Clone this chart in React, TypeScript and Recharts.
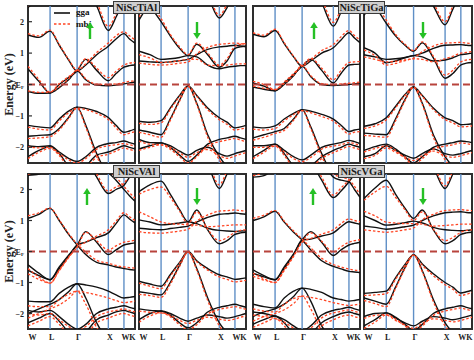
import React from 'react';
import { LineChart, Line, XAxis, YAxis, ReferenceLine, ReferenceArea, Legend } from 'recharts';

// k-path sample positions (W-L-Γ-X-W-K), fcc path lengths
const kPath = [0, 0.35, 0.707, 1.0, 1.3, 1.573, 1.85, 2.2, 2.573, 2.82, 3.073, 3.25, 3.427];
const symPoints = [0, 0.707, 1.573, 2.573, 3.073, 3.427];
const symLabels = ['W', 'L', 'Γ', 'X', 'W', 'K'];
const innerSym = [0.707, 1.573, 2.573, 3.073];
const yTicks = [-2, -1, 0, 1, 2];
const yTickLabels = ['−2', '−1', 'E_F', '1', '2'];
const compounds = ['NiScTiAl', 'NiScTiGa', 'NiScVAl', 'NiScVGa'];
const seriesNames = ['gga', 'mbj'];

// ---------- NiScTiAl spin up ----------
const tiAlUpGga = [
  [2.45, 2.75, 3.0, 3.2, 3.2, 3.2, 3.1, 2.5, 1.72, 2.15, 2.7, 3.0, 3.2],
  [1.58, 1.5, 1.7, 1.25, 0.78, 0.43, 0.62, 0.95, 1.22, 1.45, 1.62, 1.45, 1.32],
  [0.5, 0.1, -0.27, 0.0, 0.22, 0.43, 0.8, 0.45, 0.12, 0.35, 0.55, 0.6, 0.62],
  [-0.22, -0.28, -0.27, -0.1, 0.15, 0.43, 0.15, -0.02, -0.04, -0.02, 0.02, 0.05, 0.08],
  [-1.3, -1.35, -1.38, -1.1, -0.85, -0.72, -0.76, -0.86, -1.05, -1.3, -1.52, -1.48, -1.42],
  [-1.65, -1.62, -1.6, -1.4, -1.05, -0.72, -1.3, -2.2, -2.8, -2.8, -2.8, -2.8, -2.8],
  [-1.95, -1.98, -1.95, -2.15, -2.35, -2.45, -2.3, -2.0, -1.88, -1.85, -1.8, -1.85, -1.9],
  [-2.3, -2.1, -1.98, -2.2, -2.6, -2.8, -2.6, -2.25, -2.15, -2.05, -1.95, -2.0, -2.05],
];
const tiAlUpMbj = [
  [2.5, 2.85, 3.1, 3.3, 3.3, 3.3, 3.2, 2.62, 1.85, 2.25, 2.8, 3.1, 3.3],
  [1.62, 1.55, 1.73, 1.28, 0.8, 0.46, 0.66, 1.02, 1.32, 1.55, 1.68, 1.55, 1.42],
  [0.58, 0.16, -0.24, 0.03, 0.25, 0.46, 0.82, 0.52, 0.22, 0.42, 0.62, 0.68, 0.7],
  [-0.2, -0.25, -0.24, -0.07, 0.18, 0.46, 0.18, 0.01, 0.0, 0.02, 0.06, 0.1, 0.12],
  [-1.36, -1.42, -1.45, -1.16, -0.9, -0.75, -0.8, -0.92, -1.12, -1.38, -1.6, -1.55, -1.5],
  [-1.72, -1.7, -1.66, -1.45, -1.08, -0.75, -1.36, -2.28, -2.9, -2.9, -2.9, -2.9, -2.9],
  [-1.98, -2.02, -2.0, -2.2, -2.4, -2.5, -2.36, -2.06, -1.95, -1.92, -1.88, -1.92, -1.97],
  [-2.36, -2.16, -2.04, -2.26, -2.66, -2.9, -2.68, -2.32, -2.22, -2.12, -2.02, -2.07, -2.12],
];

// ---------- NiScTiAl spin down ----------
const tiAlDnGga = [
  [2.05, 2.6, 3.0, 3.2, 3.2, 3.2, 3.2, 2.8, 2.12, 2.45, 2.9, 3.0, 3.0],
  [2.9, 2.5, 2.0, 1.55, 1.15, 0.92, 1.28, 0.95, 0.55, 0.75, 1.15, 1.2, 1.22],
  [1.06, 0.95, 0.8, 0.82, 0.86, 0.92, 0.88, 0.62, 0.5, 0.55, 0.58, 0.6, 0.6],
  [0.75, 0.72, 0.7, 0.72, 0.76, 0.8, 0.95, 1.12, 1.2, 1.22, 1.25, 1.23, 1.2],
  [-1.17, -1.2, -1.15, -0.75, -0.35, -0.05, -0.35, -0.75, -1.06, -1.2, -1.38, -1.35, -1.3],
  [-1.45, -1.52, -1.6, -1.1, -0.5, -0.05, -0.6, -1.6, -2.3, -2.6, -2.7, -2.7, -2.7],
  [-1.75, -1.85, -1.86, -2.0, -2.25, -2.45, -2.25, -1.9, -1.75, -1.7, -1.65, -1.7, -1.75],
  [-2.05, -1.95, -1.86, -1.95, -2.12, -2.25, -2.1, -2.0, -2.2, -2.28, -2.2, -2.15, -2.1],
];
const tiAlDnMbj = [
  [2.15, 2.7, 3.1, 3.3, 3.3, 3.3, 3.3, 2.9, 2.2, 2.55, 3.0, 3.1, 3.1],
  [3.0, 2.6, 2.1, 1.6, 1.2, 0.95, 1.32, 1.0, 0.62, 0.82, 1.22, 1.28, 1.3],
  [0.95, 0.85, 0.7, 0.72, 0.76, 0.8, 0.8, 0.62, 0.6, 0.62, 0.65, 0.66, 0.66],
  [0.68, 0.64, 0.62, 0.64, 0.68, 0.72, 0.98, 1.18, 1.28, 1.3, 1.32, 1.3, 1.28],
  [-1.24, -1.27, -1.22, -0.8, -0.38, -0.06, -0.38, -0.8, -1.12, -1.27, -1.45, -1.42, -1.38],
  [-1.52, -1.6, -1.68, -1.15, -0.53, -0.06, -0.64, -1.68, -2.4, -2.7, -2.8, -2.8, -2.8],
  [-1.8, -1.9, -1.92, -2.06, -2.3, -2.5, -2.3, -1.96, -1.82, -1.77, -1.72, -1.77, -1.82],
  [-2.1, -2.0, -1.92, -2.0, -2.18, -2.32, -2.17, -2.07, -2.27, -2.35, -2.28, -2.22, -2.17],
];

// ---------- NiScTiGa spin up ----------
const tiGaUpGga = [
  [2.6, 2.9, 3.1, 3.2, 3.2, 3.2, 3.1, 2.6, 1.86, 2.3, 2.8, 3.0, 3.2],
  [1.6, 1.52, 1.72, 1.3, 0.88, 0.58, 0.75, 1.0, 1.17, 1.42, 1.65, 1.48, 1.33],
  [0.05, -0.05, -0.2, 0.05, 0.32, 0.58, 0.8, 0.45, 0.05, 0.35, 0.62, 0.64, 0.65],
  [-0.08, -0.15, -0.2, 0.0, 0.28, 0.58, 0.25, 0.0, -0.03, -0.02, 0.0, 0.02, 0.04],
  [-1.35, -1.38, -1.32, -1.1, -0.92, -0.8, -0.85, -0.95, -1.1, -1.3, -1.5, -1.45, -1.42],
  [-1.7, -1.6, -1.5, -1.4, -1.1, -0.8, -1.35, -2.2, -2.8, -2.8, -2.8, -2.8, -2.8],
  [-1.95, -1.95, -1.9, -2.1, -2.3, -2.4, -2.25, -2.0, -1.9, -1.85, -1.78, -1.82, -1.88],
  [-2.3, -2.1, -1.9, -2.2, -2.6, -2.8, -2.6, -2.3, -2.1, -2.0, -1.9, -1.95, -2.0],
];
const tiGaUpMbj = [
  [2.7, 3.0, 3.2, 3.3, 3.3, 3.3, 3.2, 2.72, 1.98, 2.4, 2.9, 3.1, 3.3],
  [1.65, 1.57, 1.76, 1.33, 0.9, 0.6, 0.8, 1.08, 1.27, 1.52, 1.72, 1.56, 1.42],
  [0.1, 0.0, -0.16, 0.08, 0.35, 0.6, 0.83, 0.52, 0.15, 0.45, 0.7, 0.72, 0.73],
  [-0.05, -0.12, -0.16, 0.03, 0.3, 0.6, 0.28, 0.03, 0.0, 0.02, 0.04, 0.06, 0.08],
  [-1.42, -1.45, -1.4, -1.16, -0.96, -0.83, -0.9, -1.02, -1.17, -1.38, -1.58, -1.52, -1.5],
  [-1.77, -1.68, -1.56, -1.46, -1.14, -0.83, -1.4, -2.28, -2.9, -2.9, -2.9, -2.9, -2.9],
  [-2.0, -2.0, -1.95, -2.15, -2.36, -2.46, -2.32, -2.06, -1.96, -1.92, -1.85, -1.88, -1.95],
  [-2.36, -2.16, -1.96, -2.26, -2.66, -2.9, -2.66, -2.36, -2.17, -2.07, -1.97, -2.02, -2.07],
];

// ---------- NiScTiGa spin down ----------
const tiGaDnGga = [
  [2.2, 2.7, 3.1, 3.2, 3.2, 3.2, 3.0, 2.5, 1.9, 2.4, 2.9, 3.0, 3.0],
  [2.9, 2.5, 1.95, 1.55, 1.25, 1.06, 1.33, 0.85, 0.2, 0.35, 0.62, 0.68, 0.7],
  [1.17, 1.0, 0.69, 0.75, 0.85, 0.92, 0.88, 0.75, 0.78, 0.85, 0.95, 0.97, 1.0],
  [0.95, 0.88, 0.8, 0.82, 0.86, 0.92, 1.0, 1.15, 1.25, 1.26, 1.27, 1.25, 1.24],
  [-1.33, -1.25, -1.06, -0.7, -0.32, -0.08, -0.35, -0.75, -1.06, -1.15, -1.28, -1.27, -1.25],
  [-1.55, -1.58, -1.6, -1.1, -0.48, -0.08, -0.6, -1.6, -2.3, -2.6, -2.7, -2.7, -2.7],
  [-2.1, -1.98, -1.9, -2.05, -2.3, -2.5, -2.3, -2.0, -1.9, -1.85, -1.8, -1.82, -1.85],
  [-2.3, -2.2, -1.95, -2.1, -2.25, -2.35, -2.2, -2.05, -2.2, -2.25, -2.2, -2.15, -2.1],
];
const tiGaDnMbj = [
  [2.3, 2.8, 3.2, 3.3, 3.3, 3.3, 3.1, 2.6, 2.0, 2.5, 3.0, 3.1, 3.1],
  [3.0, 2.6, 2.05, 1.6, 1.28, 1.08, 1.36, 0.9, 0.3, 0.45, 0.72, 0.78, 0.8],
  [1.1, 0.92, 0.62, 0.67, 0.76, 0.82, 0.8, 0.72, 0.82, 0.9, 1.0, 1.02, 1.05],
  [0.88, 0.8, 0.72, 0.74, 0.78, 0.84, 1.05, 1.22, 1.32, 1.33, 1.34, 1.32, 1.3],
  [-1.4, -1.32, -1.12, -0.75, -0.35, -0.09, -0.38, -0.8, -1.12, -1.22, -1.35, -1.34, -1.32],
  [-1.62, -1.65, -1.68, -1.16, -0.52, -0.09, -0.64, -1.68, -2.4, -2.7, -2.8, -2.8, -2.8],
  [-2.15, -2.04, -1.96, -2.1, -2.35, -2.55, -2.36, -2.06, -1.96, -1.92, -1.86, -1.88, -1.92],
  [-2.36, -2.26, -2.02, -2.16, -2.31, -2.42, -2.27, -2.12, -2.27, -2.32, -2.27, -2.22, -2.17],
];

// ---------- NiScVAl spin up ----------
const vAlUpGga = [
  [2.46, 2.5, 2.8, 3.1, 3.2, 3.2, 3.0, 2.4, 1.87, 2.0, 2.14, 2.4, 2.7],
  [3.2, 3.2, 3.2, 3.2, 3.2, 3.2, 3.2, 3.0, 2.55, 2.3, 2.0, 1.8, 1.62],
  [1.07, 1.2, 1.39, 1.0, 0.55, 0.21, -0.1, -0.35, -0.43, -0.5, -0.55, -0.58, -0.6],
  [-0.43, -0.7, -0.91, -0.5, -0.12, 0.21, 0.64, 0.3, -0.1, 0.05, 0.21, 0.25, 0.28],
  [-0.6, -0.78, -0.91, -0.55, -0.15, 0.21, 0.3, 0.45, 0.6, 0.9, 1.18, 1.05, 0.92],
  [-1.6, -1.62, -1.62, -1.35, -1.15, -1.04, -1.08, -1.15, -1.28, -1.4, -1.5, -1.48, -1.45],
  [-2.0, -1.85, -1.7, -1.55, -1.3, -1.04, -1.5, -2.3, -2.8, -2.8, -2.8, -2.8, -2.8],
  [-1.9, -1.95, -1.9, -2.1, -2.35, -2.5, -2.35, -2.0, -1.85, -1.8, -1.75, -1.8, -1.85],
  [-2.3, -2.15, -2.0, -2.25, -2.6, -2.8, -2.6, -2.2, -2.05, -1.95, -1.9, -1.95, -2.0],
];
const vAlUpMbj = [
  [2.5, 2.6, 2.9, 3.2, 3.3, 3.3, 3.1, 2.5, 1.95, 2.08, 2.2, 2.48, 2.8],
  [3.3, 3.3, 3.3, 3.3, 3.3, 3.3, 3.3, 3.1, 2.65, 2.4, 2.1, 1.9, 1.72],
  [1.15, 1.25, 1.4, 1.02, 0.58, 0.24, -0.02, -0.28, -0.38, -0.45, -0.5, -0.52, -0.54],
  [-0.55, -0.82, -1.02, -0.6, -0.18, 0.14, 0.62, 0.35, 0.05, 0.18, 0.3, 0.33, 0.36],
  [-0.72, -0.9, -1.02, -0.62, -0.2, 0.14, 0.3, 0.5, 0.7, 0.98, 1.25, 1.12, 1.0],
  [-1.75, -1.78, -1.78, -1.55, -1.38, -1.28, -1.32, -1.4, -1.5, -1.58, -1.65, -1.63, -1.6],
  [-2.15, -2.0, -1.85, -1.72, -1.52, -1.28, -1.7, -2.45, -2.9, -2.9, -2.9, -2.9, -2.9],
  [-2.0, -2.05, -2.0, -2.2, -2.42, -2.56, -2.42, -2.1, -1.95, -1.9, -1.85, -1.9, -1.95],
  [-2.4, -2.25, -2.1, -2.35, -2.7, -2.9, -2.7, -2.3, -2.15, -2.05, -2.0, -2.05, -2.1],
];

// ---------- NiScVAl spin down ----------
const vAlDnGga = [
  [1.93, 2.15, 2.27, 1.85, 1.35, 0.96, 1.34, 0.7, 0.25, 0.35, 0.55, 0.6, 0.62],
  [3.2, 3.2, 3.2, 3.2, 3.2, 3.2, 3.2, 2.8, 2.03, 2.5, 3.0, 3.2, 3.2],
  [1.02, 0.95, 0.86, 0.88, 0.92, 0.96, 0.9, 0.75, 0.68, 0.66, 0.65, 0.66, 0.67],
  [0.75, 0.72, 0.7, 0.74, 0.78, 0.82, 0.95, 1.1, 1.2, 1.22, 1.24, 1.22, 1.2],
  [-0.96, -1.05, -1.12, -0.75, -0.35, 0.0, -0.3, -0.55, -0.75, -0.82, -0.9, -0.88, -0.85],
  [-1.3, -1.35, -1.4, -1.0, -0.45, 0.0, -0.55, -1.5, -2.3, -2.6, -2.7, -2.7, -2.7],
  [-1.85, -1.9, -1.92, -2.05, -2.3, -2.46, -2.3, -1.95, -1.8, -1.75, -1.7, -1.75, -1.8],
  [-2.2, -2.0, -1.92, -2.0, -2.15, -2.25, -2.15, -2.05, -2.1, -2.15, -2.1, -2.05, -2.0],
];
const vAlDnMbj = [
  [1.85, 2.0, 2.08, 1.75, 1.3, 0.9, 1.28, 0.72, 0.35, 0.45, 0.62, 0.68, 0.7],
  [3.3, 3.3, 3.3, 3.3, 3.3, 3.3, 3.3, 2.9, 2.15, 2.6, 3.1, 3.3, 3.3],
  [1.28, 1.12, 0.95, 0.9, 0.88, 0.86, 0.85, 0.8, 0.82, 0.84, 0.86, 0.86, 0.86],
  [0.64, 0.6, 0.59, 0.62, 0.66, 0.72, 0.98, 1.18, 1.3, 1.32, 1.34, 1.32, 1.3],
  [-1.02, -1.12, -1.2, -0.8, -0.38, -0.02, -0.33, -0.6, -0.82, -0.9, -0.98, -0.96, -0.93],
  [-1.38, -1.42, -1.48, -1.06, -0.48, -0.02, -0.6, -1.58, -2.4, -2.7, -2.8, -2.8, -2.8],
  [-1.92, -1.96, -1.98, -2.1, -2.36, -2.52, -2.36, -2.02, -1.87, -1.82, -1.78, -1.82, -1.87],
  [-2.28, -2.08, -1.98, -2.06, -2.22, -2.32, -2.22, -2.12, -2.18, -2.22, -2.18, -2.12, -2.08],
];

// ---------- NiScVGa spin up ----------
const vGaUpGga = [
  [2.4, 2.45, 2.7, 3.0, 3.2, 3.2, 2.9, 2.3, 1.74, 1.95, 2.25, 2.5, 2.8],
  [3.2, 3.2, 3.2, 3.2, 3.2, 3.2, 3.2, 2.9, 2.4, 2.3, 2.25, 2.0, 1.75],
  [1.0, 1.12, 1.3, 0.95, 0.62, 0.37, 0.05, -0.3, -0.48, -0.56, -0.64, -0.66, -0.68],
  [-0.59, -0.78, -0.91, -0.5, -0.08, 0.37, 0.64, 0.3, -0.13, 0.05, 0.21, 0.26, 0.3],
  [-0.7, -0.82, -0.91, -0.55, -0.1, 0.37, 0.4, 0.5, 0.6, 0.8, 0.96, 0.92, 0.88],
  [-1.7, -1.78, -1.82, -1.5, -1.28, -1.18, -1.22, -1.32, -1.5, -1.55, -1.6, -1.58, -1.55],
  [-2.1, -1.95, -1.85, -1.7, -1.45, -1.18, -1.6, -2.4, -2.8, -2.8, -2.8, -2.8, -2.8],
  [-1.95, -2.0, -2.08, -2.2, -2.4, -2.55, -2.4, -2.05, -1.9, -1.85, -1.8, -1.85, -1.9],
  [-2.35, -2.2, -2.08, -2.3, -2.65, -2.8, -2.65, -2.3, -2.1, -2.0, -1.95, -2.0, -2.05],
];
const vGaUpMbj = [
  [2.45, 2.55, 2.8, 3.1, 3.3, 3.3, 3.0, 2.4, 1.82, 2.05, 2.32, 2.6, 2.9],
  [3.3, 3.3, 3.3, 3.3, 3.3, 3.3, 3.3, 3.0, 2.5, 2.4, 2.32, 2.1, 1.85],
  [1.07, 1.17, 1.32, 0.98, 0.66, 0.4, 0.12, -0.22, -0.42, -0.5, -0.57, -0.6, -0.62],
  [-0.7, -0.88, -1.0, -0.58, -0.14, 0.3, 0.6, 0.33, -0.02, 0.15, 0.3, 0.35, 0.38],
  [-0.8, -0.92, -1.0, -0.62, -0.16, 0.3, 0.42, 0.56, 0.7, 0.9, 1.05, 1.0, 0.96],
  [-1.85, -1.92, -1.95, -1.7, -1.52, -1.44, -1.48, -1.55, -1.65, -1.7, -1.74, -1.72, -1.7],
  [-2.25, -2.1, -2.0, -1.88, -1.68, -1.44, -1.85, -2.55, -2.9, -2.9, -2.9, -2.9, -2.9],
  [-2.05, -2.1, -2.16, -2.28, -2.47, -2.6, -2.47, -2.14, -1.98, -1.93, -1.88, -1.93, -1.98],
  [-2.45, -2.3, -2.16, -2.4, -2.75, -2.9, -2.75, -2.4, -2.2, -2.1, -2.05, -2.1, -2.15],
];

// ---------- NiScVGa spin down ----------
const vGaDnGga = [
  [1.71, 2.05, 2.3, 1.85, 1.4, 1.07, 1.34, 0.7, 0.25, 0.35, 0.55, 0.6, 0.62],
  [3.2, 3.2, 3.2, 3.2, 3.2, 3.2, 3.1, 2.7, 2.03, 2.5, 3.0, 3.2, 3.2],
  [1.15, 1.0, 0.85, 0.88, 0.93, 0.98, 0.92, 0.78, 0.7, 0.68, 0.67, 0.68, 0.7],
  [0.82, 0.78, 0.72, 0.75, 0.8, 0.85, 1.0, 1.15, 1.25, 1.27, 1.28, 1.26, 1.25],
  [-1.35, -1.32, -1.28, -0.85, -0.42, -0.1, -0.4, -0.72, -1.0, -1.15, -1.34, -1.3, -1.25],
  [-1.5, -1.6, -1.7, -1.15, -0.52, -0.1, -0.62, -1.55, -2.3, -2.6, -2.7, -2.7, -2.7],
  [-2.1, -2.0, -1.98, -2.12, -2.35, -2.55, -2.35, -2.0, -1.85, -1.8, -1.75, -1.8, -1.85],
  [-2.4, -2.2, -1.98, -2.15, -2.3, -2.4, -2.25, -2.1, -2.15, -2.2, -2.15, -2.1, -2.05],
];
const vGaDnMbj = [
  [1.65, 1.92, 2.1, 1.75, 1.35, 1.0, 1.28, 0.72, 0.35, 0.45, 0.62, 0.68, 0.7],
  [3.3, 3.3, 3.3, 3.3, 3.3, 3.3, 3.2, 2.8, 2.12, 2.6, 3.1, 3.3, 3.3],
  [1.3, 1.15, 0.95, 0.92, 0.9, 0.9, 0.88, 0.82, 0.84, 0.86, 0.88, 0.88, 0.88],
  [0.7, 0.66, 0.62, 0.65, 0.7, 0.76, 1.02, 1.2, 1.32, 1.34, 1.35, 1.33, 1.32],
  [-1.42, -1.4, -1.36, -0.9, -0.45, -0.12, -0.44, -0.78, -1.07, -1.22, -1.42, -1.38, -1.32],
  [-1.58, -1.68, -1.78, -1.2, -0.55, -0.12, -0.66, -1.62, -2.4, -2.7, -2.8, -2.8, -2.8],
  [-2.16, -2.06, -2.04, -2.18, -2.4, -2.6, -2.4, -2.06, -1.92, -1.87, -1.82, -1.87, -1.92],
  [-2.48, -2.28, -2.05, -2.22, -2.37, -2.48, -2.32, -2.17, -2.22, -2.27, -2.22, -2.17, -2.12],
];

const KMAX = 3.427;
const SERIF = '"Liberation Serif", "DejaVu Serif", serif';
const GGA_COLOR = '#111111';
const MBJ_COLOR = '#ff4422';
const SYM_COLOR = '#5f8fc6';
const EF_COLOR = '#b8433c';
const FRAME = '#2e2e2e';
const GREEN = '#25c025';

type Rows = Record<string, number>[];

function buildRows(gga: number[][], mbj: number[][]): Rows {
  return kPath.map((k, i) => {
    const row: Record<string, number> = { k };
    gga.forEach((b, j) => { row['g' + j] = b[i]; });
    mbj.forEach((b, j) => { row['m' + j] = b[i]; });
    return row;
  });
}

const YTick = (props: any) => {
  const { x, y, payload, showLabel } = props;
  const idx = yTicks.indexOf(payload.value);
  const lbl = yTickLabels[idx];
  return (
    <g>
      <line x1={x} x2={x + 4} y1={y} y2={y} stroke={FRAME} strokeWidth={1.2} />
      {showLabel && (lbl === 'E_F' ? (
        <text x={x - 4} y={y + 3} textAnchor="end" fontSize={8} fontWeight="bold" fontFamily={SERIF} fill="#222">
          E<tspan fontSize={5} dy={1.5}>F</tspan>
        </text>
      ) : (
        <text x={x - 4} y={y + 3} textAnchor="end" fontSize={8} fontWeight="bold" fontFamily={SERIF} fill="#222">{lbl}</text>
      ))}
    </g>
  );
};

const XTick = (props: any) => {
  const { x, y, payload } = props;
  const idx = symPoints.indexOf(payload.value);
  const first = idx === 0;
  const last = idx === symPoints.length - 1;
  const anchor = first ? 'start' : last ? 'end' : 'middle';
  const tx = first ? x + 0.5 : last ? x + 0.5 : x + 1.5;
  return (
    <text x={tx} y={y + 11} textAnchor={anchor} fontSize={8} fontWeight="bold" fontFamily={SERIF} fill="#222">
      {symLabels[idx]}
    </text>
  );
};

const LegendBox = () => (
  <div style={{ fontFamily: SERIF, fontWeight: 'bold', fontSize: 9, color: '#111', lineHeight: '11.5px' }}>
    {seriesNames.map((n, i) => (
      <div key={n} style={{ display: 'flex', alignItems: 'center' }}>
        <svg width={16} height={8} style={{ marginRight: 6 }}>
          <line x1={0} x2={16} y1={4} y2={4} stroke={i === 0 ? GGA_COLOR : MBJ_COLOR} strokeWidth={1.6}
            strokeDasharray={i === 0 ? undefined : '2.5 2'} />
        </svg>
        <span>{n}</span>
      </div>
    ))}
  </div>
);

type PanelProps = {
  gga: number[][]; mbj: number[][];
  px: number; py: number; pw: number; ph: number;
  yLabels: boolean; xLabels: boolean; legend?: boolean;
};

function Panel({ gga, mbj, px, py, pw, ph, yLabels, xLabels, legend }: PanelProps) {
  const rows = buildRows(gga, mbj);
  const yW = yLabels ? 28 : 0;
  const xH = xLabels ? 14 : 0;
  const m = 2;
  const width = pw + yW + 2 * m;
  const height = ph + xH + 2 * m;
  return (
    <div style={{ position: 'absolute', left: px - yW - m, top: py - m, width, height }}>
      <LineChart width={width} height={height} data={rows} margin={{ top: m, right: m, bottom: m, left: m }}>
        <XAxis dataKey="k" type="number" domain={[0, KMAX]} ticks={symPoints} interval={0}
          hide={!xLabels} height={xH} tickSize={0} tickMargin={0} axisLine={false} tickLine={false}
          tick={<XTick />} allowDataOverflow />
        <YAxis type="number" domain={[-2.5, 2.5]} ticks={yTicks} interval={0} width={yW}
          tickSize={0} tickMargin={0} axisLine={false} tickLine={false} allowDataOverflow
          tick={<YTick showLabel={yLabels} />}
          label={yLabels ? (p: any) => {
            const vb = p.viewBox || {};
            const cx = (vb.x ?? 0) + 9;
            const cy = (vb.y ?? 0) + (vb.height ?? 0) / 2;
            return (
              <text x={cx} y={cy} transform={`rotate(-90, ${cx}, ${cy})`} textAnchor="middle" dominantBaseline="central"
                fontSize={12} fontWeight="bold" fontFamily={SERIF} fill="#222">Energy (eV)</text>
            );
          } : undefined} />
        {innerSym.map((s) => (
          <ReferenceLine key={'s' + s} x={s} stroke={SYM_COLOR} strokeWidth={1.4} />
        ))}
        {gga.map((_, j) => (
          <Line key={'g' + j} dataKey={'g' + j} type="monotone" stroke={GGA_COLOR} strokeWidth={1.4}
            dot={false} isAnimationActive={false} />
        ))}
        {mbj.map((_, j) => (
          <Line key={'m' + j} dataKey={'m' + j} type="monotone" stroke={MBJ_COLOR} strokeWidth={1.3}
            strokeDasharray="2.5 2" dot={false} isAnimationActive={false} />
        ))}
        <ReferenceLine y={0} stroke={EF_COLOR} strokeWidth={2} strokeDasharray="7 4" />
        <ReferenceArea x1={0} x2={KMAX} y1={-2.5} y2={2.5} fill="none" fillOpacity={0} stroke={FRAME} strokeWidth={2} />
        {legend && (
          <Legend layout="vertical" align="center" verticalAlign="middle" content={() => <LegendBox />}
            wrapperStyle={{ left: 56, top: 3, width: 50 }} />
        )}
      </LineChart>
    </div>
  );
}

const TitleBox = ({ text, cx, top }: { text: string; cx: number; top: number }) => (
  <div style={{
    position: 'absolute', left: cx - 24, top, width: 47, height: 13, background: '#cfcfcf',
    border: '1.5px solid #3a3a3a', boxSizing: 'border-box', display: 'flex', alignItems: 'center',
    justifyContent: 'center', fontFamily: SERIF, fontWeight: 'bold', fontSize: 10.5, color: '#1a1a1a', zIndex: 5,
  }}>{text}</div>
);

const arrows = [
  { x: 90, y: 22, up: true }, { x: 197, y: 22, up: false },
  { x: 314, y: 22, up: true }, { x: 423, y: 22, up: false },
  { x: 87, y: 188, up: true }, { x: 197, y: 188, up: false },
  { x: 313, y: 188, up: true }, { x: 423, y: 188, up: false },
];

export default function App() {
  const top = { py: 6, ph: 157 };
  const bot = { py: 174, ph: 155 };
  return (
    <div style={{ position: 'absolute', left: 0, top: 0, width: 474, height: 360, background: '#fff', overflow: 'hidden' }}>
      <Panel gga={tiAlUpGga} mbj={tiAlUpMbj} px={28} pw={107} {...top} yLabels xLabels={false} legend />
      <Panel gga={tiAlDnGga} mbj={tiAlDnMbj} px={139} pw={107} {...top} yLabels={false} xLabels={false} />
      <Panel gga={tiGaUpGga} mbj={tiGaUpMbj} px={253} pw={107} {...top} yLabels={false} xLabels={false} />
      <Panel gga={tiGaDnGga} mbj={tiGaDnMbj} px={364} pw={108} {...top} yLabels={false} xLabels={false} />
      <Panel gga={vAlUpGga} mbj={vAlUpMbj} px={28} pw={107} {...bot} yLabels xLabels />
      <Panel gga={vAlDnGga} mbj={vAlDnMbj} px={139} pw={107} {...bot} yLabels={false} xLabels />
      <Panel gga={vGaUpGga} mbj={vGaUpMbj} px={253} pw={107} {...bot} yLabels={false} xLabels />
      <Panel gga={vGaDnGga} mbj={vGaDnMbj} px={364} pw={108} {...bot} yLabels={false} xLabels />
      <svg width={474} height={360} style={{ position: 'absolute', left: 0, top: 0, pointerEvents: 'none', zIndex: 4 }}>
        {arrows.map((a, i) => {
          const tip = a.up ? a.y : a.y + 17;
          const base = a.up ? a.y + 6 : a.y + 11;
          const tail = a.up ? a.y + 17 : a.y;
          return (
            <g key={i} fill={GREEN} stroke="none">
              <rect x={a.x - 1.2} y={Math.min(base, tail)} width={2.4} height={Math.abs(tail - base)} />
              <polygon points={`${a.x - 3.8},${base} ${a.x + 3.8},${base} ${a.x},${tip}`} />
            </g>
          );
        })}
      </svg>
      <TitleBox text={compounds[0]} cx={137} top={1} />
      <TitleBox text={compounds[1]} cx={362} top={1} />
      <TitleBox text={compounds[2]} cx={137} top={165} />
      <TitleBox text={compounds[3]} cx={362} top={165} />
    </div>
  );
}
